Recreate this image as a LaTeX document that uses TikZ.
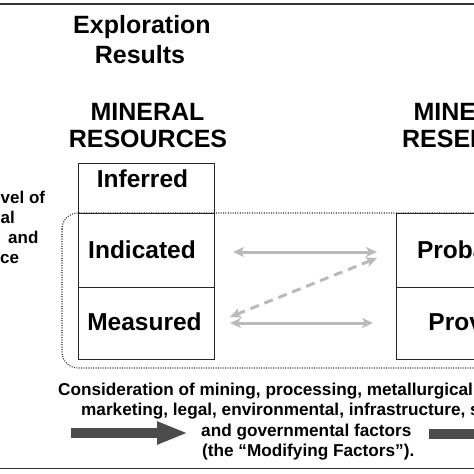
\documentclass[tikz,border=0pt]{standalone}
\usepackage{fontspec}
\setmainfont{Liberation Sans}
\usetikzlibrary{arrows.meta}
\begin{document}
\begin{tikzpicture}[x=1pt,y=-1pt,
  cell/.style={draw=black!85, line width=1.3pt, minimum width=#1, inner sep=0pt, anchor=north west},
  cell/.default=136pt,
  lbl/.style={font=\bfseries\fontsize{24.5}{28}\selectfont, anchor=base, inner sep=0pt},
  head/.style={font=\bfseries\fontsize{25}{28}\selectfont, anchor=base, inner sep=0pt},
  side/.style={font=\bfseries\fontsize{17}{20}\selectfont, anchor=base west, inner sep=0pt},
  foot/.style={font=\bfseries\fontsize{17.2}{20}\selectfont, anchor=base west, inner sep=0pt},
  twoway/.style={draw=black!27, line width=3pt, {Stealth[length=11pt,width=10pt,inset=3pt]}-{Stealth[length=11pt,width=10pt,inset=3pt]}},
  twowaydash/.style={twoway, dash pattern=on 9pt off 6pt},
  bigarrow/.style={draw=black!70, line width=10pt, -{Triangle[length=31pt,width=21pt]}},
  rulebar/.style={draw=black!80, line width=1.8pt},
  dotbox/.style={draw=black!85, line width=1.1pt, dash pattern=on 1pt off 1.4pt, rounded corners=16pt}
]
\useasboundingbox (0,0) rectangle (474,474);
\clip (0,0) rectangle (474,474);

% rules
\draw[rulebar] (0,4) -- (474,4);
\draw[rulebar] (0,468.5) -- (474,468.5);

% dotted envelope
\draw[dotbox] (62,213) rectangle (556,368);

% headings
\node[head] (expl) at (142,33) {Exploration};
\node[head] (res) at (140,63) {Results};
\node[head] (minl) at (147.5,120) {MINERAL};
\node[head] (resl) at (148,147) {RESOURCES};
\node[head] (minr) at (470.5,120) {MINERAL};
\node[head] (resr) at (470,147) {RESERVES};

% left box
\node[cell, minimum height=50pt] (inf) at (78,163) {};
\node[cell, minimum height=74pt] (ind) at (78,213) {};
\node[cell, minimum height=72pt] (mea) at (78,287) {};
% right box
\node[cell=150pt, minimum height=74pt] (prb) at (396,213) {};
\node[cell=150pt, minimum height=72pt] (prv) at (396,287) {};

\node[lbl] (tinf) at (142.5,187) {Inferred};
\node[lbl] (tind) at (142,258) {Indicated};
\node[lbl] (tmea) at (144.5,330) {Measured};
\node[lbl] (tprb) at (469.5,258) {Probable};
\node[lbl] (tprv) at (470,330) {Proven};

% side text fragments
\node[side] (s1) at (0.5,203) {vel of};
\node[side] (s2) at (0.5,223) {al};
\node[side] (s3) at (8,243) {and};
\node[side] (s4) at (0,263) {ce};

% gray connectors
\coordinate (a1) at (233,252);
\coordinate (b1) at (377,252);
\coordinate (a2) at (230,323);
\coordinate (b2) at (373,323);
\coordinate (a3) at (230,317);
\coordinate (b3) at (377,258);
\draw[twoway] (a1) -- (b1);
\draw[twoway] (a2) -- (b2);
\draw[twowaydash] (b3) -- (a3);

% footer text
\node[foot] (f1) at (58,395) {Consideration of mining, processing, metallurgical};
\node[foot] (f2) at (81,415) {marketing, legal, environmental, infrastructure, s};
\node[foot] (f3) at (201,436) {and governmental factors};
\node[foot] (f4) at (202,456) {(the “Modifying Factors").};

% big arrows
\coordinate (g1) at (71,433);
\coordinate (g2) at (188,433);
\coordinate (g3) at (429,434);
\coordinate (g4) at (560,434);
\draw[bigarrow] (g1) -- (g2);
\draw[bigarrow] (g3) -- (g4);
\end{tikzpicture}
\end{document}
